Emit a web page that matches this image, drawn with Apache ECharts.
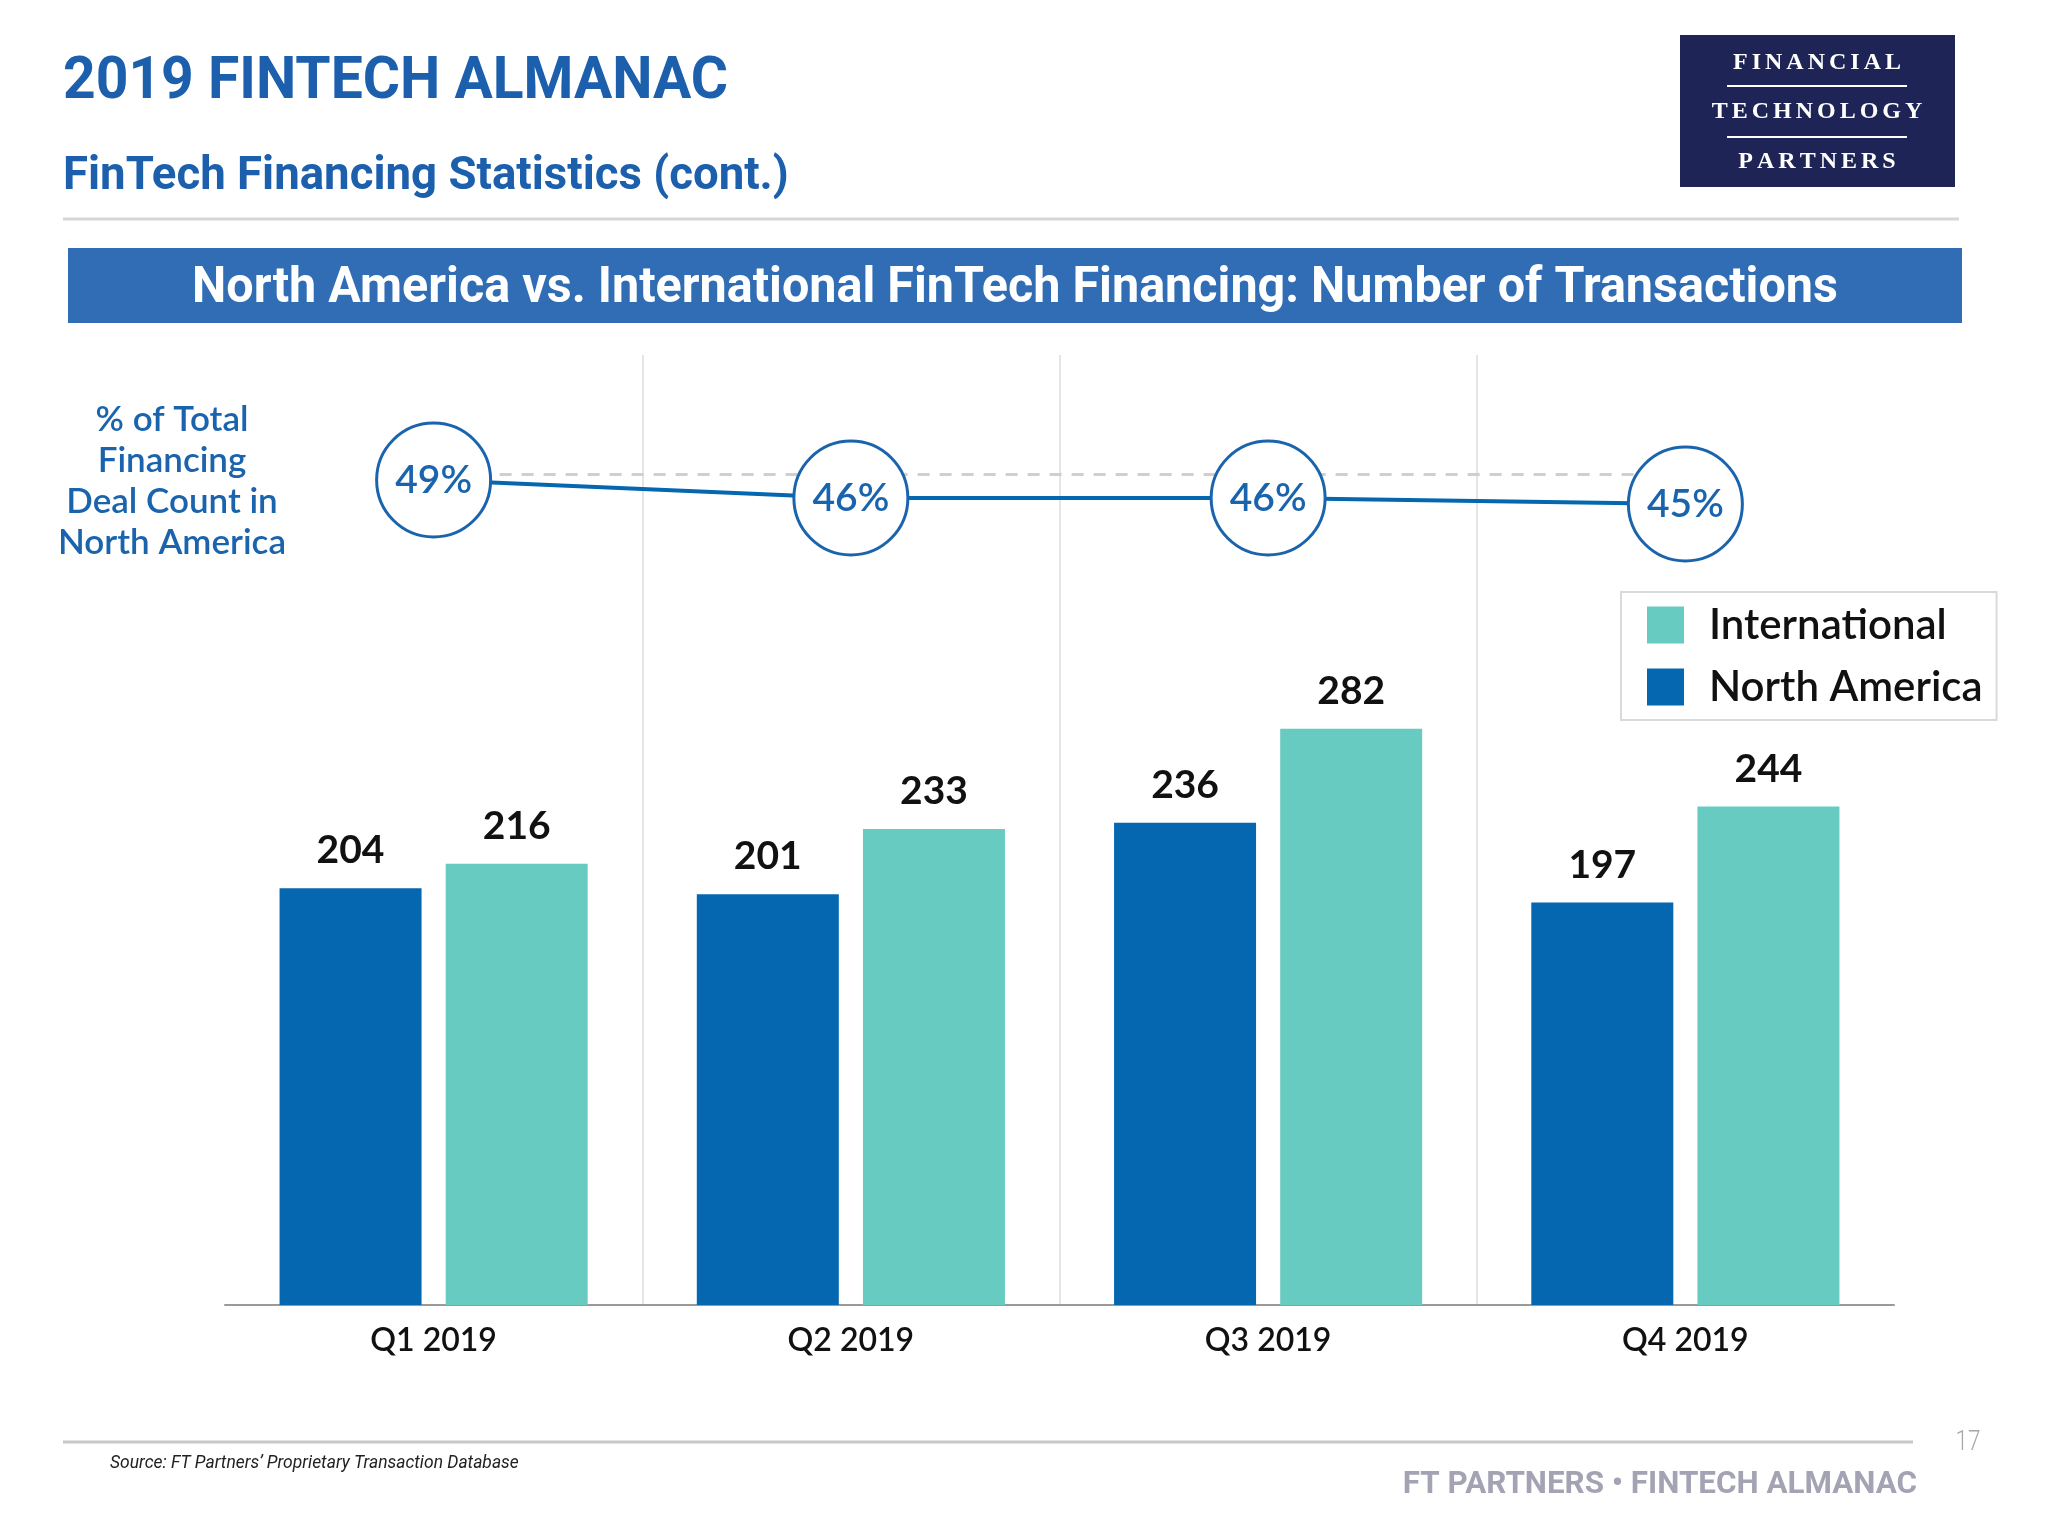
<!DOCTYPE html>
<html>
<head>
<meta charset="utf-8">
<script src="https://cdn.jsdelivr.net/npm/echarts@6/dist/echarts.min.js"></script>
<style>
  html, body { margin: 0; padding: 0; background: #fff; }
  #chart { width: 2048px; height: 1536px; }
</style>
</head>
<body>
<div id="chart"></div>
<script>
(function () {

  // data
  var categories = ['Q1 2019', 'Q2 2019', 'Q3 2019', 'Q4 2019'];
  var northAmerica = [204, 201, 236, 197];
  var international = [216, 233, 282, 244];
  var naShare = [49, 46, 46, 45];

  var blue = '#1c5fad';
  var naColor = '#0467b0';
  var intColor = '#68cbc1';
  var circleBlue = '#1a64ae';

  // spaced-out serif letters for the logo
  function spaced(word) {
    return word.split('').map(function (c) { return '{l|' + c + '}'; }).join('{s| }');
  }
  var logoRich = {
    l: { fontFamily: 'Liberation Serif', fontWeight: 'bold', fontSize: 24, fill: '#ffffff' },
    s: { fontFamily: 'Liberation Serif', fontSize: 16, fill: '#ffffff' }
  };

  var chart = echarts.init(document.getElementById('chart'));

  var option = {
    backgroundColor: '#ffffff',
    animation: false,
    textStyle: { fontFamily: 'Lato' },
    grid: [
      // bars
      { left: 225, width: 1669, top: 355, height: 950 },
      // % line on top
      { left: 225, width: 1669, top: 414, height: 120 }
    ],
    xAxis: [
      {
        type: 'category', gridIndex: 0, data: categories,
        axisLine: { lineStyle: { color: '#9a9a9a', width: 2 } },
        axisTick: { show: false },
        axisLabel: { color: '#111', fontSize: 32, fontWeight: 600, margin: 20, fontFamily: 'Lato' }
      },
      {
        // only used for the thin separators between quarters
        type: 'value', gridIndex: 0, min: 0, max: 4, interval: 1, position: 'top',
        axisLine: { show: false }, axisTick: { show: false }, axisLabel: { show: false },
        splitLine: { show: true, showMinLine: false, showMaxLine: false, lineStyle: { color: '#dcdcdc', width: 1.5 } }
      },
      {
        type: 'category', gridIndex: 1, data: categories, show: false
      }
    ],
    yAxis: [
      { type: 'value', gridIndex: 0, min: 0, max: 465, show: false, splitLine: { show: false } },
      { type: 'value', gridIndex: 1, min: 40, max: 60, show: false, splitLine: { show: false } }
    ],
    legend: {
      orient: 'vertical',
      left: 1621, top: 592,
      data: ['International', 'North America'],
      itemWidth: 37, itemHeight: 37, itemGap: 20,
      padding: [12, 14, 12, 26],
      borderColor: '#dadada', borderWidth: 2,
      icon: 'rect',
      textStyle: { fontSize: 42, color: '#111', fontWeight: 600, fontFamily: 'Lato', lineHeight: 40, padding: [0, 0, 0, 20] }
    },
    series: [
      {
        name: 'North America', type: 'bar', xAxisIndex: 0, yAxisIndex: 0,
        data: northAmerica, barWidth: 142, barGap: '17%',
        itemStyle: { color: naColor },
        label: { show: true, position: 'top', distance: 18, color: '#111', fontSize: 39, fontWeight: 'bold', fontFamily: 'Lato' }
      },
      {
        name: 'International', type: 'bar', xAxisIndex: 0, yAxisIndex: 0,
        data: international, barWidth: 142, barGap: '17%',
        itemStyle: { color: intColor },
        label: { show: true, position: 'top', distance: 18, color: '#111', fontSize: 39, fontWeight: 'bold', fontFamily: 'Lato' }
      },
      {
        name: 'share', type: 'line', xAxisIndex: 2, yAxisIndex: 1,
        data: naShare, z: 10,
        lineStyle: { color: naColor, width: 4 },
        symbol: 'circle', symbolSize: 114,
        itemStyle: { color: '#fff', borderColor: circleBlue, borderWidth: 3 },
        label: {
          show: true, position: 'inside', formatter: '{c}%',
          color: circleBlue, fontSize: 39, fontWeight: 600, fontFamily: 'Lato'
        },
        markLine: {
          silent: true, symbol: 'none', z: 1,
          label: { show: false },
          lineStyle: { color: '#cfcfcf', type: [12, 10], width: 3 },
          data: [[{ coord: [categories[0], 50] }, { coord: [categories[3], 50] }]]
        }
      }
    ],
    graphic: [
      { type: 'text', x: 63, y: 83, scaleX: 0.95,
        style: { text: '2019 FINTECH ALMANAC', fontFamily: 'Roboto', fontWeight: 'bold', fontSize: 60,
          fill: blue, textAlign: 'left', textVerticalAlign: 'middle' } },
      { type: 'text', x: 63, y: 177, scaleX: 0.97,
        style: { text: 'FinTech Financing Statistics (cont.)', fontFamily: 'Roboto', fontWeight: 'bold', fontSize: 47,
          fill: blue, textAlign: 'left', textVerticalAlign: 'middle' } },
      { type: 'line', shape: { x1: 63, y1: 219, x2: 1959, y2: 219 }, style: { stroke: '#d6d6d6', lineWidth: 3 } },
      { type: 'rect', shape: { x: 68, y: 248, width: 1894, height: 75 }, style: { fill: '#306db5' } },
      { type: 'text', x: 1015, y: 289, scaleX: 0.97,
        style: { text: 'North America vs. International FinTech Financing: Number of Transactions',
          fontFamily: 'Roboto', fontWeight: 'bold', fontSize: 50, fill: '#fff',
          textAlign: 'center', textVerticalAlign: 'middle' } },

      // logo
      { type: 'rect', shape: { x: 1680, y: 35, width: 275, height: 152 }, style: { fill: '#1e2456' } },
      { type: 'text', x: 1817, y: 63,
        style: { text: spaced('FINANCIAL'), rich: logoRich, fill: '#fff', textAlign: 'center', textVerticalAlign: 'middle' } },
      { type: 'line', shape: { x1: 1727, y1: 86, x2: 1907, y2: 86 }, style: { stroke: '#fff', lineWidth: 2 } },
      { type: 'text', x: 1817, y: 112,
        style: { text: spaced('TECHNOLOGY'), rich: logoRich, fill: '#fff', textAlign: 'center', textVerticalAlign: 'middle' } },
      { type: 'line', shape: { x1: 1727, y1: 137, x2: 1907, y2: 137 }, style: { stroke: '#fff', lineWidth: 2 } },
      { type: 'text', x: 1817, y: 162,
        style: { text: spaced('PARTNERS'), rich: logoRich, fill: '#fff', textAlign: 'center', textVerticalAlign: 'middle' } },

      // left caption for the % line
      { type: 'text', x: 172, y: 481,
        style: { text: '% of Total\nFinancing\nDeal Count in\nNorth America', fontFamily: 'Lato', fontWeight: 600,
          fontSize: 35, lineHeight: 41, fill: circleBlue, textAlign: 'center', textVerticalAlign: 'middle' } },

      // footer
      { type: 'line', shape: { x1: 63, y1: 1442, x2: 1913, y2: 1442 }, style: { stroke: '#c8c8c8', lineWidth: 3 } },
      { type: 'text', x: 1968, y: 1443, scaleX: 0.8,
        style: { text: '17', fontFamily: 'Roboto', fontWeight: 300, fontSize: 28, fill: '#a8a8a8',
          textAlign: 'center', textVerticalAlign: 'middle' } },
      { type: 'text', x: 110, y: 1463, scaleX: 0.97,
        style: { text: 'Source: FT Partners\u2019 Proprietary Transaction Database', fontFamily: 'Roboto',
          fontStyle: 'italic', fontSize: 18, fill: '#222', textAlign: 'left', textVerticalAlign: 'middle' } },
      { type: 'text', x: 1917, y: 1485, scaleX: 0.98,
        style: { text: 'FT PARTNERS \u2022 FINTECH ALMANAC', fontFamily: 'Roboto', fontWeight: 'bold', fontSize: 32,
          fill: '#a3a3b4', textAlign: 'right', textVerticalAlign: 'middle' } }
    ]
  };

  chart.setOption(option);
}());
</script>
</body>
</html>
